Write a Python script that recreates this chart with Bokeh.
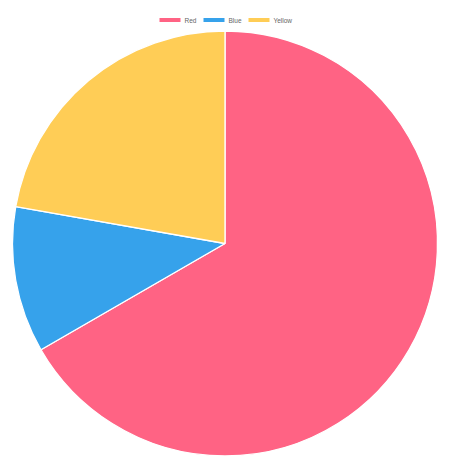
import math
from bokeh.plotting import figure
from bokeh.models import Range1d, ColumnDataSource
from bokeh.core.properties import value
from bokeh.embed import file_html
from bokeh.resources import INLINE

# Data
labels = ["Red", "Blue", "Yellow"]
values = [300, 50, 100]
colors = ["rgb(255, 99, 132)", "rgb(54, 162, 235)", "rgb(255, 205, 86)"]

W, H = 466, 460
p = figure(width=W, height=H, output_backend="svg", toolbar_location=None,
           x_range=Range1d(0, W), y_range=Range1d(0, H), min_border=0,
           outline_line_color=None, match_aspect=False)
p.axis.visible = False
p.grid.visible = False
p.background_fill_color = "white"
p.border_fill_color = "white"

cx, cy, r = 224.5, H - 243.0, 212.5
total = sum(values)
starts, ends = [], []
acc = 0.0
for v in values:
    starts.append(math.pi / 2 - acc / total * 2 * math.pi)
    acc += v
    ends.append(math.pi / 2 - acc / total * 2 * math.pi)

src = ColumnDataSource(dict(x=[cx] * len(values), y=[cy] * len(values),
                            start=starts, end=ends, color=colors, label=labels))
p.wedge(x="x", y="y", radius=r, start_angle="start", end_angle="end",
        direction="clock", fill_color="color", line_color="white",
        line_width=1.3, source=src)

# Legend (manual, Chart.js style)
box_w, box_h = 21, 4
label_widths = [9, 10, 16]
gap_box_text, gap_item = 4, 10
x0 = 159
leg_y = H - 19.5
bx, tx = [], []
xcur = x0
for lw in label_widths:
    bx.append(xcur + box_w / 2)
    tx.append(xcur + box_w + gap_box_text)
    xcur += box_w + gap_box_text + lw + gap_item

lsrc = ColumnDataSource(dict(bx=bx, tx=tx, y=[leg_y] * len(labels), color=colors, label=labels))
p.rect(x="bx", y="y", width=box_w, height=box_h, fill_color="color", line_color=None, source=lsrc)
p.text(x="tx", y="y", text="label", text_font=value("Liberation Sans"), text_font_size="6.5px",
       text_color="#666666", text_baseline="middle", text_align="left", source=lsrc)

open("out.html", "w").write(file_html(p, INLINE))
